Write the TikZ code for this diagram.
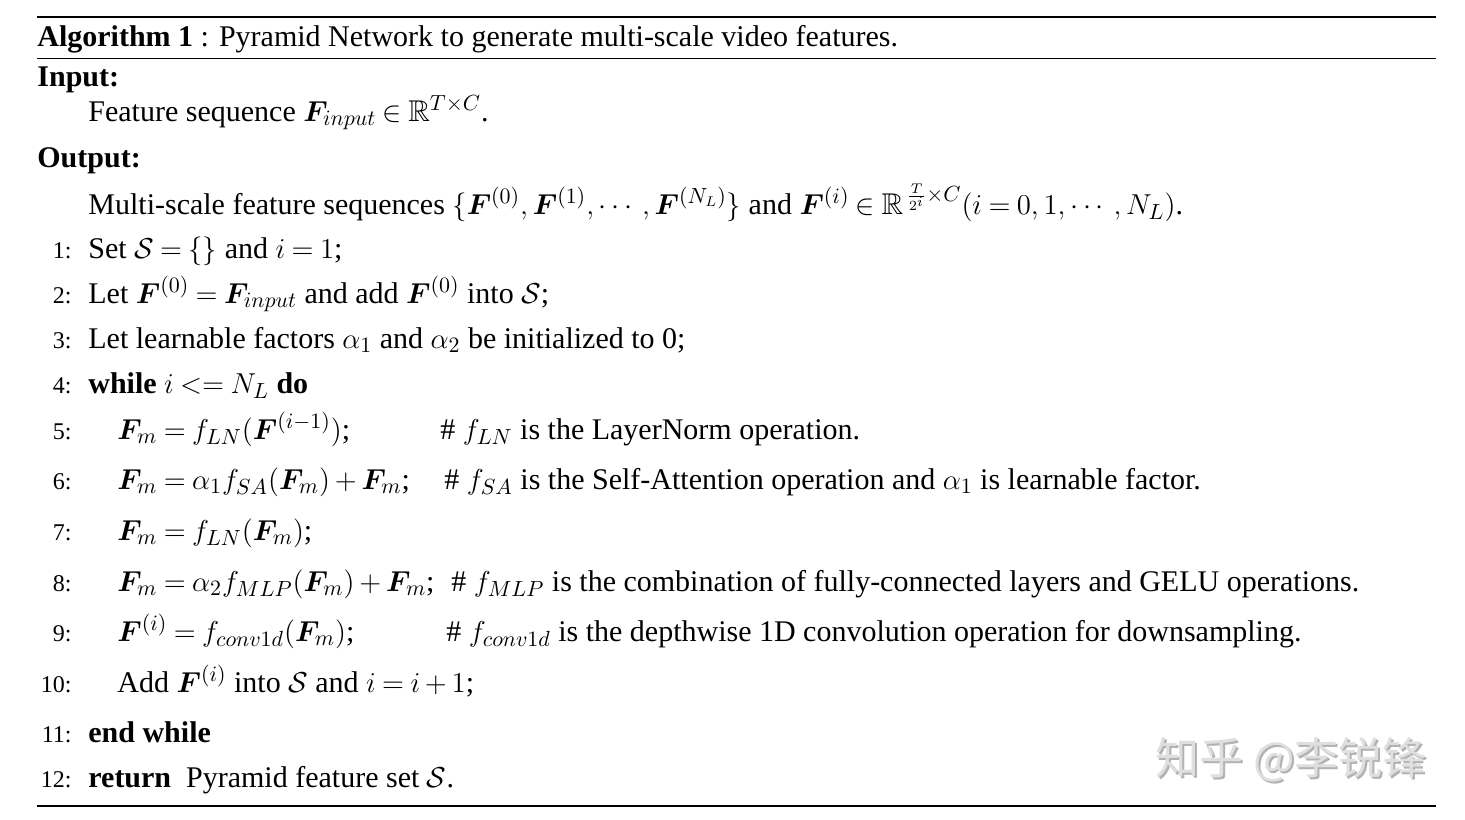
\documentclass[tikz,border=0pt]{standalone}
\usepackage{amsmath}
\usepackage{amssymb}
\usepackage{bm}
\usepackage[no-math]{fontspec}
\setmainfont{Liberation Serif}
\newfontfamily\cjkfont{Noto Sans CJK SC}
\newcommand\tightmath{\medmuskip=3mu\relax\thickmuskip=4mu\relax}
\begin{document}
\begin{tikzpicture}[x=0.5pt,y=-0.5pt,
  txt/.style={anchor=base west,inner sep=0pt,font=\fontsize{15}{17}\selectfont\tightmath},
  num/.style={anchor=base east,inner sep=0pt,font=\fontsize{12}{14}\selectfont},
  cmt/.style={anchor=base west,inner sep=0pt,font=\fontsize{15}{17}\selectfont},
  wm/.style={anchor=base west,inner sep=0pt,font=\cjkfont\fontsize{22}{25}\selectfont}]
\useasboundingbox[fill=white] (0,0) rectangle (1465,819);
\draw[line width=1pt] (37,17) coordinate (t1) -- (1436,17) coordinate (t2);
\draw[line width=0.5pt] (37,58) coordinate (m1) -- (1436,58) coordinate (m2);
\draw[line width=0.75pt] (37,806) coordinate (b1) -- (1436,806) coordinate (b2);

\node[txt] (title) at (37,46) {\textbf{Algorithm 1} : Pyramid Network to generate multi-scale video features.};
\node[txt] (input) at (37,86) {\textbf{Input:}};
\node[txt] (inputtxt) at (88,121) {Feature sequence $\bm{F}_{input}\in\mathbb{R}^{T\times C}$.};
\node[txt] (output) at (37,167) {\textbf{Output:}};
\node[txt] (outputtxt) at (88,214) {Multi-scale feature sequences $\{\bm{F}^{(0)},\bm{F}^{(1)},\cdots,\bm{F}^{(N_L)}\}$ and $\bm{F}^{(i)}\in\mathbb{R}^{\,\frac{T}{2^i}\times C}(i=0,1,\cdots,N_L)$.};

\node[num] (n1) at (72,258) {1:};
\node[txt] (l1) at (88,258) {Set $\mathcal{S}=\{\}$ and $i=1$;};
\node[num] (n2) at (72,303) {2:};
\node[txt] (l2) at (88,303) {Let $\bm{F}^{(0)}=\bm{F}_{input}$ and add $\bm{F}^{(0)}$ into $\mathcal{S}$;};
\node[num] (n3) at (72,348) {3:};
\node[txt] (l3) at (88,348) {Let learnable factors $\alpha_1$ and $\alpha_2$ be initialized to 0;};
\node[num] (n4) at (72,393) {4:};
\node[txt] (l4) at (88,393) {\textbf{while} $i<=N_L$ \textbf{do}};
\node[num] (n5) at (72,439) {5:};
\node[txt] (l5) at (117,439) {$\bm{F}_m=f_{LN}(\bm{F}^{(i-1)})$;};
\node[cmt] (c5) at (440,439) {\# $f_{LN}$ is the LayerNorm operation.};
\node[num] (n6) at (72,489) {6:};
\node[txt] (l6) at (117,489) {$\bm{F}_m=\alpha_1 f_{SA}(\bm{F}_m)+\bm{F}_m$;};
\node[cmt] (c6) at (444,489) {\# $f_{SA}$ is the Self-Attention operation and $\alpha_1$ is learnable factor.};
\node[num] (n7) at (72,540) {7:};
\node[txt] (l7) at (117,540) {$\bm{F}_m=f_{LN}(\bm{F}_m)$;};
\node[num] (n8) at (72,591) {8:};
\node[txt] (l8) at (117,591) {$\bm{F}_m=\alpha_2 f_{MLP}(\bm{F}_m)+\bm{F}_m$;};
\node[cmt] (c8) at (451,591) {\# $f_{MLP}$ is the combination of fully-connected layers and GELU operations.};
\node[num] (n9) at (72,641) {9:};
\node[txt] (l9) at (117,641) {$\bm{F}^{(i)}=f_{conv1d}(\bm{F}_m)$;};
\node[cmt] (c9) at (446,641) {\# $f_{conv1d}$ is the depthwise 1D convolution operation for downsampling.};
\node[num] (n10) at (72,692) {10:};
\node[txt] (l10) at (117,692) {Add $\bm{F}^{(i)}$ into $\mathcal{S}$ and $i=i+1$;};
\node[num] (n11) at (72,742) {11:};
\node[txt] (l11) at (88,742) {\textbf{end while}};
\node[num] (n12) at (72,787) {12:};
\node[txt] (l12) at (88,787) {\textbf{return}\ \ Pyramid feature set $\mathcal{S}$.};

\node[wm,text=gray!60] (wmshadow) at (1157,776) {知乎 @李锐锋};
\node[wm,text=gray!25] (wmark) at (1155,774) {知乎 @李锐锋};
\end{tikzpicture}
\end{document}
